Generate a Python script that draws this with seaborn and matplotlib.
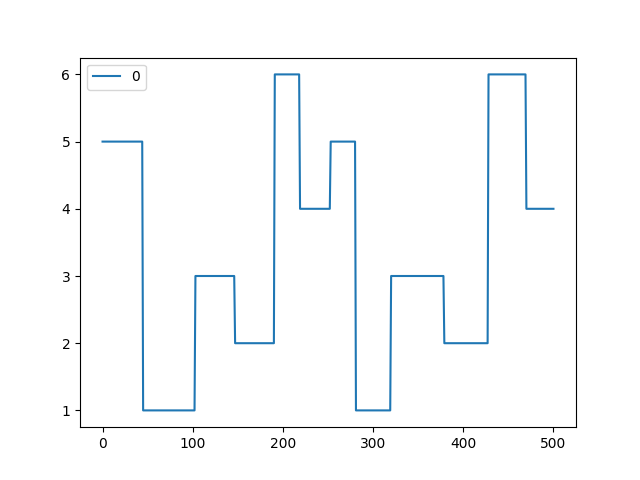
import numpy as np
import pandas as pd
import matplotlib
matplotlib.use("Agg")
import matplotlib.pyplot as plt
import seaborn as sns

levels = [5, 1, 3, 2, 6, 4, 5, 1, 3, 2, 6, 4]
run_lengths = [45, 58, 44, 44, 28, 34, 28, 39, 59, 49, 42, 31]

values = np.repeat(levels, run_lengths)
df = pd.DataFrame({0: values})

fig, ax = plt.subplots(figsize=(6.4, 4.8), dpi=100)
sns.lineplot(data=df, ax=ax)
ax.legend(loc="upper left")
fig.savefig("out.png")
